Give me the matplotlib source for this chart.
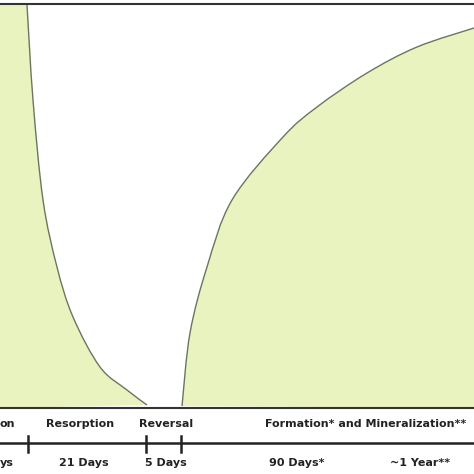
import numpy as np
import matplotlib.pyplot as plt
from matplotlib.path import Path
from matplotlib.patches import PathPatch

# outline points (pixel coords, y down)
left_x = [27, 33, 43, 57, 73, 100, 127, 147]
left_y = [5, 100, 200, 267, 317, 367, 390, 405]
right_x = [182, 190, 207, 232, 283, 317, 367, 417, 474]
right_y = [406, 333, 267, 200, 137, 107, 73, 47, 28]

phases = ["on", "Resorption", "Reversal", "Formation* and Mineralization**"]
phase_x = [0, 80, 166, 366]
durations = ["ys", "21 Days", "5 Days", "90 Days*", "~1 Year**"]
dur_x = [0, 84, 166, 297, 420]
tick_x = [28, 146, 181]

fill = "#e9f3bf"
edge = "#6b7560"


def smooth_path(xs, ys):
    # Catmull-Rom through the points, drawn as cubic Bezier segments
    p = np.column_stack([xs, ys]).astype(float)
    verts = [p[0]]
    codes = [Path.MOVETO]
    for i in range(len(p) - 1):
        p0 = p[max(i - 1, 0)]
        p3 = p[min(i + 2, len(p) - 1)]
        c1 = p[i] + (p[i + 1] - p0) / 6
        c2 = p[i + 1] - (p3 - p[i]) / 6
        verts += [c1, c2, p[i + 1]]
        codes += [Path.CURVE4] * 3
    return verts, codes


fig = plt.figure(figsize=(4.74, 4.74), dpi=100)
ax = fig.add_axes([0, 0, 1, 1])
ax.set_xlim(0, 474)
ax.set_ylim(474, 0)
ax.axis("off")

top, base = 4, 408

v, c = smooth_path(left_x, left_y)
ax.add_patch(PathPatch(Path(v + [(0, base), (0, top), v[0]],
                            c + [Path.LINETO] * 3), fc=fill, lw=0))
ax.add_patch(PathPatch(Path(v, c), fc="none", ec=edge, lw=1))

v, c = smooth_path(right_x, right_y)
ax.add_patch(PathPatch(Path(v + [(474, base), v[0]],
                            c + [Path.LINETO] * 2), fc=fill, lw=0))
ax.add_patch(PathPatch(Path(v, c), fc="none", ec=edge, lw=1))

ax.plot([0, 474], [top, top], color="#333333", lw=1.5)
ax.plot([0, 474], [base, base], color="#333333", lw=1.5)

# timeline
ax.plot([0, 474], [443, 443], color="#222222", lw=1.8)
for t in tick_x:
    ax.plot([t, t], [436, 452], color="#222222", lw=1.8)

for s, x in zip(phases, phase_x):
    ax.text(x, 424, s, ha="center" if x > 20 else "left", va="center",
            fontsize=8, fontweight="bold", color="#222222")
for s, x in zip(durations, dur_x):
    ax.text(x, 463, s, ha="center" if x > 20 else "left", va="center",
            fontsize=8, fontweight="bold", color="#222222")

fig.savefig("out.png", dpi=100)
